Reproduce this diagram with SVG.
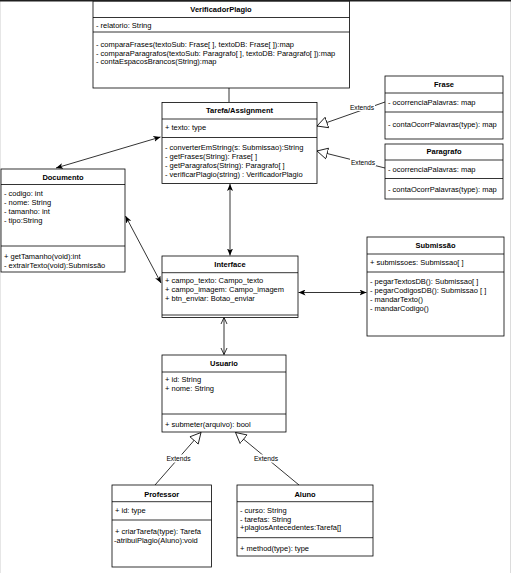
<svg xmlns="http://www.w3.org/2000/svg" width="511" height="573" viewBox="0 0 511 573">
<style>
.box{fill:#fff;stroke:#000;stroke-width:0.8}
.sep{stroke:#000;stroke-width:0.8}
.t{font-family:"Liberation Sans",Arial,sans-serif;font-size:7.5px;fill:#000}
.h{font-family:"Liberation Sans",Arial,sans-serif;font-size:7.5px;font-weight:bold;fill:#000;text-anchor:middle}
.edge{fill:none;stroke:#000;stroke-width:0.8}
.lbl{font-family:"Liberation Sans",Arial,sans-serif;font-size:6.7px;fill:#000;text-anchor:middle}
.lbg{fill:#fff}
</style>
<defs>
<marker id="cls" markerUnits="userSpaceOnUse" markerWidth="8" markerHeight="6" refX="7" refY="3" orient="auto-start-reverse" viewBox="0 0 8 6">
<path d="M0,0 L7,3 L0,6 L1.8,3 z" fill="#000" stroke="none"/>
</marker>
<marker id="opn" markerUnits="userSpaceOnUse" markerWidth="8" markerHeight="8" refX="6.5" refY="3.5" orient="auto-start-reverse" viewBox="0 0 8 7">
<path d="M0,0.5 L6.5,3.5 L0,6.5" fill="none" stroke="#000" stroke-width="0.8"/>
</marker>
<marker id="tri" markerUnits="userSpaceOnUse" markerWidth="13" markerHeight="13" refX="11" refY="6" orient="auto" viewBox="0 0 13 12">
<path d="M0.5,0.5 L11,6 L0.5,11.5 z" fill="#fff" stroke="#000" stroke-width="0.8"/>
</marker>
</defs>
<rect x="0" y="0" width="511" height="573" fill="#fff"/>
<line x1="0.5" y1="0" x2="0.5" y2="573" stroke="#e6e6e6" stroke-width="1"/>
<line x1="510.5" y1="0" x2="510.5" y2="573" stroke="#dcdcdc" stroke-width="1"/>

<g id="connectors">
<line class="edge" x1="229" y1="88" x2="229" y2="102"/>
<line class="edge" x1="160.5" y1="137" x2="56" y2="168" marker-start="url(#cls)" marker-end="url(#cls)"/>
<line class="edge" x1="230" y1="184" x2="230" y2="255.5" marker-start="url(#cls)" marker-end="url(#cls)"/>
<line class="edge" x1="125.5" y1="216" x2="161" y2="283" marker-start="url(#cls)" marker-end="url(#cls)"/>
<line class="edge" x1="298.5" y1="292.5" x2="366.5" y2="292.5" marker-start="url(#cls)" marker-end="url(#cls)"/>
<line class="edge" x1="224" y1="317.5" x2="224" y2="354.5" marker-start="url(#opn)" marker-end="url(#opn)"/>
<line class="edge" x1="385" y1="102" x2="317" y2="126" marker-end="url(#tri)"/>
<rect class="lbg" x="349" y="103" width="26" height="8"/>
<text class="lbl" x="362" y="109.5">Extends</text>
<line class="edge" x1="385" y1="168" x2="317" y2="151" marker-end="url(#tri)"/>
<rect class="lbg" x="350" y="158" width="26" height="8"/>
<text class="lbl" x="363" y="164.5">Extends</text>
<line class="edge" x1="155" y1="485" x2="201" y2="432.5" marker-end="url(#tri)"/>
<rect class="lbg" x="165.5" y="454.5" width="26" height="8"/>
<text class="lbl" x="178.5" y="461">Extends</text>
<line class="edge" x1="299" y1="485" x2="235.5" y2="432.5" marker-end="url(#tri)"/>
<rect class="lbg" x="253" y="454.5" width="26" height="8"/>
<text class="lbl" x="266" y="461">Extends</text>
</g>

<g id="VerificadorPlagio">
<rect class="box" x="93" y="1" width="256.5" height="87"/>
<line class="sep" x1="93" y1="17.5" x2="349.5" y2="17.5"/>
<line class="sep" x1="93" y1="32" x2="349.5" y2="32"/>
<text class="h" x="221" y="12.3">VerificadorPlagio</text>
<text class="t" x="96" y="27.5">- relatorio: String</text>
<text class="t" x="96" y="47">- comparaFrases(textoSub: Frase[ ], textoDB: Frase[ ]):map</text>
<text class="t" x="96" y="55.5">- comparaParagrafos(textoSub: Paragrafo[ ], textoDB: Paragrafo[ ]):map</text>
<text class="t" x="96" y="64">- contaEspacosBrancos(String):map</text>
</g>

<rect x="0" y="0" width="511" height="1.5" fill="#1e1e1e"/>

<g id="Tarefa">
<rect class="box" x="162" y="102.5" width="155" height="81"/>
<line class="sep" x1="162" y1="119" x2="317" y2="119"/>
<line class="sep" x1="162" y1="137.5" x2="317" y2="137.5"/>
<text class="h" x="239.5" y="113.4">Tarefa/Assignment</text>
<text class="t" x="165" y="130">+ texto: type</text>
<text class="t" x="165" y="150">- converterEmString(s: Submissao):String</text>
<text class="t" x="165" y="159">- getFrases(String): Frase[ ]</text>
<text class="t" x="165" y="168">- getParagrafos(String):  Paragrafo[ ]</text>
<text class="t" x="165" y="177">- verificarPlagio(string) : VerificadorPlagio</text>
</g>

<g id="Frase">
<rect class="box" x="385" y="76" width="118" height="63"/>
<line class="sep" x1="385" y1="93" x2="503" y2="93"/>
<line class="sep" x1="385" y1="112" x2="503" y2="112"/>
<text class="h" x="444" y="86.7">Frase</text>
<text class="t" x="388" y="104.5">- ocorrenciaPalavras: map</text>
<text class="t" x="388" y="127">- contaOcorrPalavras(type): map</text>
</g>

<g id="Paragrafo">
<rect class="box" x="385" y="144" width="118" height="55"/>
<line class="sep" x1="385" y1="160" x2="503" y2="160"/>
<line class="sep" x1="385" y1="178.5" x2="503" y2="178.5"/>
<text class="h" x="444" y="154">Paragrafo</text>
<text class="t" x="388" y="171.5">- ocorrenciaPalavras: map</text>
<text class="t" x="388" y="191.5">- contaOcorrPalavras(type): map</text>
</g>

<g id="Documento">
<rect class="box" x="1" y="169" width="124" height="103"/>
<line class="sep" x1="1" y1="184.5" x2="125" y2="184.5"/>
<line class="sep" x1="1" y1="246" x2="125" y2="246"/>
<text class="h" x="63" y="179.7">Documento</text>
<text class="t" x="4" y="196">- codigo: int</text>
<text class="t" x="4" y="205">- nome: String</text>
<text class="t" x="4" y="214">- tamanho: int</text>
<text class="t" x="4" y="223">- tipo:String</text>
<text class="t" x="4" y="259.4">+ getTamanho(void):int</text>
<text class="t" x="4" y="268.2">- extrairTexto(void):Submissão</text>
</g>

<g id="Interface">
<rect class="box" x="162" y="256" width="136" height="61.5"/>
<line class="sep" x1="162" y1="272.7" x2="298" y2="272.7"/>
<line class="sep" x1="162" y1="315" x2="298" y2="315"/>
<text class="h" x="230" y="266.7">Interface</text>
<text class="t" x="165" y="283.4">+ campo_texto: Campo_texto</text>
<text class="t" x="165" y="292.2">+ campo_imagem: Campo_imagem</text>
<text class="t" x="165" y="301">+ btn_enviar: Botao_enviar</text>
</g>

<g id="Submissao">
<rect class="box" x="367" y="237" width="137" height="99"/>
<line class="sep" x1="367" y1="254" x2="504" y2="254"/>
<line class="sep" x1="367" y1="272" x2="504" y2="272"/>
<text class="h" x="435.5" y="247.7">Submissão</text>
<text class="t" x="370" y="265">+ submissoes: Submissao[ ]</text>
<text class="t" x="370" y="284.4">- pegarTextosDB(): Submissao[ ]</text>
<text class="t" x="370" y="293.3">- pegarCodigosDB(): Submissao [ ]</text>
<text class="t" x="370" y="302.2">- mandarTexto()</text>
<text class="t" x="370" y="311.1">- mandarCodigo()</text>
</g>

<g id="Usuario">
<rect class="box" x="162" y="355" width="124" height="77"/>
<line class="sep" x1="162" y1="372" x2="286" y2="372"/>
<line class="sep" x1="162" y1="414" x2="286" y2="414"/>
<text class="h" x="224" y="366">Usuario</text>
<text class="t" x="165" y="382">+ id: String</text>
<text class="t" x="165" y="391">+ nome: String</text>
<text class="t" x="165" y="426.7">+ submeter(arquivo): bool</text>
</g>

<g id="Professor">
<rect class="box" x="112" y="485" width="99.5" height="82"/>
<line class="sep" x1="112" y1="501.7" x2="211.5" y2="501.7"/>
<line class="sep" x1="112" y1="520" x2="211.5" y2="520"/>
<text class="h" x="161.7" y="496.7">Professor</text>
<text class="t" x="115" y="513.4">+ id: type</text>
<text class="t" x="115" y="534.4">+ criarTarefa(type): Tarefa</text>
<text class="t" x="114" y="543">-atribuiPlagio(Aluno):void</text>
</g>

<g id="Aluno">
<rect class="box" x="237" y="485" width="136" height="71"/>
<line class="sep" x1="237" y1="501.7" x2="373" y2="501.7"/>
<line class="sep" x1="237" y1="537.7" x2="373" y2="537.7"/>
<text class="h" x="305" y="496.7">Aluno</text>
<text class="t" x="240" y="512.7">- curso: String</text>
<text class="t" x="240" y="521.5">- tarefas: String</text>
<text class="t" x="240" y="530.3">+plagiosAntecedentes:Tarefa[]</text>
<text class="t" x="240" y="550.5">+ method(type): type</text>
</g>
</svg>
